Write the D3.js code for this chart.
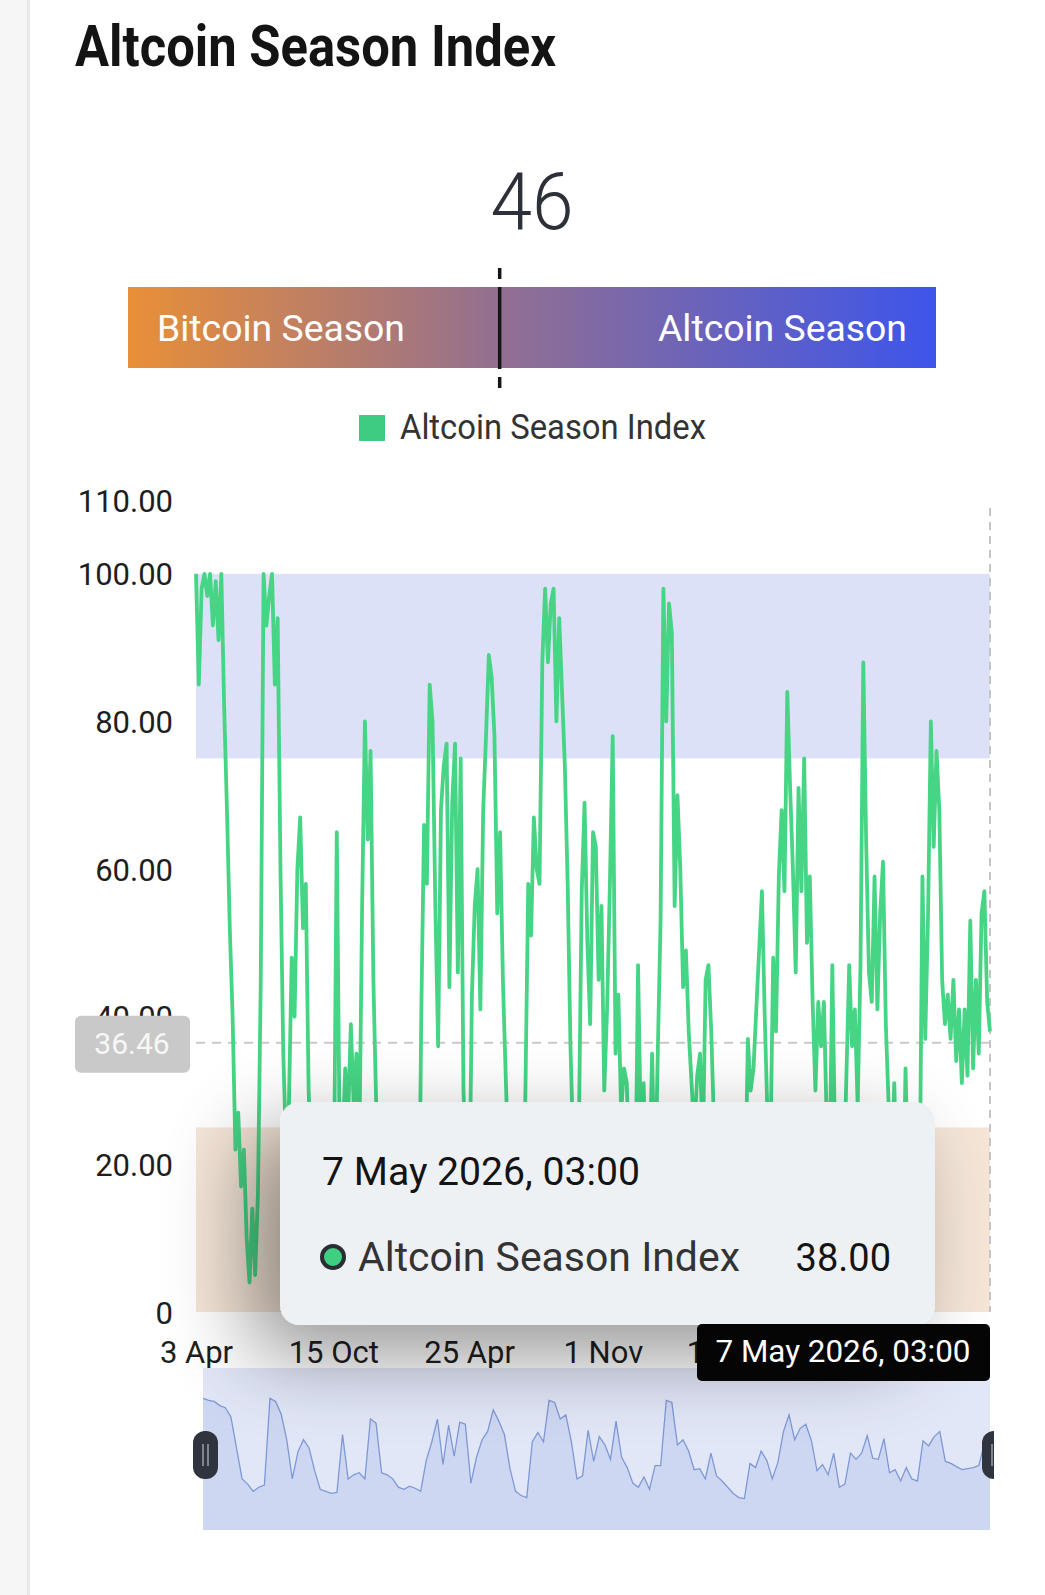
<!DOCTYPE html>
<html>
<head>
<meta charset="utf-8">
<script src="https://cdn.jsdelivr.net/npm/d3@7"></script>
<style>
  body { margin: 0; background: #fff; }
  text { font-family: Roboto, "Noto Sans", sans-serif; }
</style>
</head>
<body>
<div id="chart"></div>
<script>

// data (daily index, one value every 4 days from 3 Apr 2023)
var startDate = "2023-04-03";
var stepDays = 4;
var indexValues = [
  100, 85, 98, 100, 97, 100, 93, 99, 91, 100,
  82, 68, 52, 40, 22, 27, 17, 22, 10, 4,
  14, 5, 16, 45, 100, 93, 97, 100, 85, 94,
  60, 35, 22, 28, 48, 40, 60, 67, 52, 58,
  30, 20, 12, 6, 10, 4, 8, 3, 9, 18,
  65, 24, 22, 33, 26, 39, 28, 35, 22, 55,
  80, 64, 76, 45, 28, 20, 26, 15, 22, 10,
  14, 6, 12, 8, 15, 9, 13, 5, 10, 2,
  40, 66, 58, 85, 80, 55, 36, 68, 74, 77,
  44, 69, 77, 46, 75, 30, 18, 12, 43, 55,
  60, 41, 68, 78, 89, 86, 78, 54, 65, 45,
  32, 20, 10, 16, 6, 12, 4, 30, 58, 51,
  67, 60, 58, 88, 98, 88, 96, 98, 80, 94,
  84, 74, 58, 36, 22, 15, 25, 57, 69, 50,
  39, 65, 63, 45, 55, 30, 41, 58, 78, 35,
  43, 27, 33, 31, 18, 22, 14, 47, 24, 31,
  12, 18, 35, 15, 35, 53, 98, 80, 96, 92,
  55, 70, 60, 44, 49, 38, 31, 24, 32, 35,
  22, 45, 47, 38, 25, 28, 20, 26, 14, 18,
  8, 12, 4, 9, 3, 14, 37, 30, 33, 41,
  49, 57, 40, 26, 22, 48, 38, 59, 68, 57,
  84, 71, 60, 46, 71, 57, 75, 50, 59, 42,
  30, 42, 36, 42, 26, 18, 47, 22, 14, 28,
  17, 32, 47, 36, 41, 28, 47, 88, 64, 46,
  42, 59, 41, 54, 61, 39, 28, 18, 31, 14,
  20, 10, 33, 16, 22, 12, 20, 15, 59, 37,
  54, 80, 63, 76, 68, 45, 39, 43, 37, 45,
  34, 41, 31, 41, 32, 53, 33, 45, 35, 54,
  57, 42, 38
];

var yTicks = [0, 20, 40, 60, 80, 100, 110];
var xTickDates = ["2023-04-03", "2023-10-15", "2024-04-25", "2024-11-01", "2025-05-10"];
var xTickLabels = ["3 Apr", "15 Oct", "25 Apr", "1 Nov", "10 May"];

var currentIndex = 46;
var averageValue = 36.46;
var altcoinBand = [75, 100];
var bitcoinBand = [0, 25];
var tooltipDate = "7 May 2026, 03:00";
var tooltipValue = 38;

var lineColor = "#46d585";

var parseDay = d3.utcParse("%Y-%m-%d");
var firstDay = parseDay(startDate);
var mydata = indexValues.map(function (v, i) {
      return { date: d3.utcDay.offset(firstDay, i * stepDays), value: v };
});

var svg = d3.select("#chart")
      .append("svg")
      .attr("width", 1045)
      .attr("height", 1595);

var defs = svg.append("defs");

var grad = defs.append("linearGradient").attr("id", "seasonGrad")
      .attr("x1", "0%").attr("x2", "100%").attr("y1", "0%").attr("y2", "0%");
grad.append("stop").attr("offset", "0%").attr("stop-color", "#e98f37");
grad.append("stop").attr("offset", "45%").attr("stop-color", "#94708f");
grad.append("stop").attr("offset", "100%").attr("stop-color", "#3d55ea");

var shadow = defs.append("filter").attr("id", "tipShadow")
      .attr("x", "-60%").attr("y", "-80%").attr("width", "220%").attr("height", "260%");
shadow.append("feGaussianBlur").attr("in", "SourceAlpha").attr("stdDeviation", 42);
shadow.append("feOffset").attr("dx", -30).attr("dy", 30).attr("result", "blur");
shadow.append("feComponentTransfer").append("feFuncA").attr("type", "linear").attr("slope", 0.42);
var merge = shadow.append("feMerge");
merge.append("feMergeNode");
merge.append("feMergeNode").attr("in", "SourceGraphic");

defs.append("clipPath").attr("id", "pageClip")
      .append("rect").attr("x", 0).attr("y", 0).attr("width", 994).attr("height", 1595);

// left page strip
svg.append("rect").attr("x", 0).attr("y", 0).attr("width", 28).attr("height", 1595).attr("fill", "#f6f6f6");
svg.append("rect").attr("x", 27).attr("y", 0).attr("width", 3).attr("height", 1595).attr("fill", "#e8e8e8");

// title
svg.append("text")
      .text("Altcoin Season Index")
      .attr("x", 75).attr("y", 66)
      .attr("font-size", "57px")
      .attr("font-weight", 700)
      .attr("textLength", 481)
      .attr("lengthAdjust", "spacingAndGlyphs")
      .attr("fill", "#141414");

// current value
svg.append("text")
      .text(currentIndex)
      .attr("x", 532).attr("y", 229)
      .attr("text-anchor", "middle")
      .attr("font-size", "80px")
      .attr("font-weight", 300)
      .attr("textLength", 83)
      .attr("lengthAdjust", "spacingAndGlyphs")
      .attr("fill", "#2c3038");

// gauge bar
var gauge = d3.scaleLinear().domain([0, 100]).range([128, 936]);
svg.append("rect")
      .attr("x", gauge(0)).attr("y", 287)
      .attr("width", gauge(100) - gauge(0)).attr("height", 81)
      .attr("fill", "url(#seasonGrad)");
svg.append("text").text("Bitcoin Season")
      .attr("x", 157).attr("y", 341)
      .attr("font-size", "37px").attr("fill", "#fff")
      .attr("textLength", 248).attr("lengthAdjust", "spacingAndGlyphs");
svg.append("text").text("Altcoin Season")
      .attr("x", 658).attr("y", 341)
      .attr("font-size", "37px").attr("fill", "#fff")
      .attr("textLength", 249).attr("lengthAdjust", "spacingAndGlyphs");
[[268, 279], [287, 369], [377, 388]].forEach(function (s) {
      svg.append("line")
            .attr("x1", gauge(currentIndex)).attr("x2", gauge(currentIndex))
            .attr("y1", s[0]).attr("y2", s[1])
            .attr("stroke", "#151515").attr("stroke-width", 3.5);
});

// legend
svg.append("rect").attr("x", 359).attr("y", 415).attr("width", 26).attr("height", 26)
      .attr("fill", "#3dcc82");
svg.append("text").text("Altcoin Season Index")
      .attr("x", 400).attr("y", 439)
      .attr("font-size", "35px").attr("fill", "#333")
      .attr("textLength", 306).attr("lengthAdjust", "spacingAndGlyphs");

// scales
var x = d3.scaleUtc()
      .domain([mydata[0].date, mydata[mydata.length - 1].date])
      .range([196, 990]);
var y = d3.scaleLinear()
      .domain([0, 110])
      .range([1312, 500]);

// season bands
svg.append("rect")
      .attr("x", 196).attr("width", 990 - 196)
      .attr("y", y(altcoinBand[1])).attr("height", y(altcoinBand[0]) - y(altcoinBand[1]))
      .attr("fill", "#dce1f8");
svg.append("rect")
      .attr("x", 196).attr("width", 990 - 196)
      .attr("y", y(bitcoinBand[1])).attr("height", y(bitcoinBand[0]) - y(bitcoinBand[1]))
      .attr("fill", "#f4e5d7");

// y axis
var yAxis = svg.append("g")
      .attr("transform", "translate(173,0)")
      .call(d3.axisLeft(y).tickValues(yTicks).tickSize(0).tickPadding(0)
            .tickFormat(function (d) { return d === 0 ? "0" : d3.format(".2f")(d); }));
yAxis.select(".domain").remove();
yAxis.selectAll("text")
      .attr("font-size", "31px")
      .attr("font-family", "Roboto, sans-serif")
      .attr("fill", "#1e1e1e")
      .attr("dy", "0.36em");

// average line
svg.append("line")
      .attr("x1", 196).attr("x2", 990)
      .attr("y1", y(averageValue)).attr("y2", y(averageValue))
      .attr("stroke", "#c9c9c9").attr("stroke-width", 2)
      .attr("stroke-dasharray", "9,7");

// crosshair
svg.append("line")
      .attr("x1", 990).attr("x2", 990)
      .attr("y1", 508).attr("y2", 1312)
      .attr("stroke", "#c4c4c4").attr("stroke-width", 2)
      .attr("stroke-dasharray", "8,6");

// index line
var line = d3.line()
      .x(function (d) { return x(d.date); })
      .y(function (d) { return y(d.value); });
svg.append("path")
      .datum(mydata)
      .attr("d", line)
      .attr("fill", "none")
      .attr("stroke", lineColor)
      .attr("stroke-width", 3.8)
      .attr("stroke-linejoin", "round");

// average label
svg.append("rect")
      .attr("x", 75).attr("y", y(averageValue) - 27)
      .attr("width", 115).attr("height", 57).attr("rx", 6)
      .attr("fill", "#c9c9c9");
svg.append("text").text(averageValue.toFixed(2))
      .attr("x", 132).attr("y", y(averageValue) + 11)
      .attr("text-anchor", "middle")
      .attr("font-size", "30px").attr("fill", "#f7f7f7");

// x axis
var xAxis = svg.append("g")
      .attr("transform", "translate(0,1330)")
      .call(d3.axisBottom(x).tickSize(0).tickPadding(0)
            .tickValues(xTickDates.map(parseDay))
            .tickFormat(function (d, i) { return xTickLabels[i]; }));
xAxis.select(".domain").remove();
xAxis.selectAll("text")
      .attr("font-size", "31px")
      .attr("font-family", "Roboto, sans-serif")
      .attr("fill", "#1e1e1e")
      .attr("dy", "1.05em");

// mini overview (data zoom)
var ext = d3.extent(indexValues);
var pad = (ext[1] - ext[0]) * 0.3;
var xm = d3.scaleUtc()
      .domain(x.domain())
      .range([203, 990]);
var ym = d3.scaleLinear()
      .domain([ext[0] - pad, ext[1] + pad])
      .range([1530, 1368]);
var miniData = mydata.filter(function (d, i) { return i % 2 === 0 || i === mydata.length - 1; });

svg.append("rect")
      .attr("x", 203).attr("y", 1368).attr("width", 787).attr("height", 162)
      .attr("fill", "#e2e7f8");
svg.append("path")
      .datum(miniData)
      .attr("d", d3.area()
            .x(function (d) { return xm(d.date); })
            .y0(1530)
            .y1(function (d) { return ym(d.value); }))
      .attr("fill", "#c6d0ef")
      .attr("opacity", 0.7);
svg.append("path")
      .datum(miniData)
      .attr("d", d3.line()
            .x(function (d) { return xm(d.date); })
            .y(function (d) { return ym(d.value); }))
      .attr("fill", "none")
      .attr("stroke", "#7e98d6")
      .attr("stroke-width", 1.3);

var handles = svg.append("g").attr("clip-path", "url(#pageClip)");
[193, 982].forEach(function (hx) {
      handles.append("rect")
            .attr("x", hx).attr("y", 1431).attr("width", 25).attr("height", 48).attr("rx", 12)
            .attr("fill", "#2f343e");
      [hx + 10, hx + 15].forEach(function (lx) {
            handles.append("line")
                  .attr("x1", lx).attr("x2", lx).attr("y1", 1444).attr("y2", 1466)
                  .attr("stroke", "#9aa0aa").attr("stroke-width", 1.5);
      });
});

// tooltip
svg.append("rect")
      .attr("x", 280).attr("y", 1102).attr("width", 655).attr("height", 223).attr("rx", 20)
      .attr("fill", "#eef1f4")
      .attr("filter", "url(#tipShadow)");
svg.append("text").text(tooltipDate)
      .attr("x", 322).attr("y", 1185)
      .attr("font-size", "38px").attr("fill", "#141414")
      .attr("textLength", 318).attr("lengthAdjust", "spacingAndGlyphs");
svg.append("circle")
      .attr("cx", 333).attr("cy", 1257).attr("r", 11)
      .attr("fill", "#3fcf80").attr("stroke", "#2a2d33").attr("stroke-width", 4);
svg.append("text").text("Altcoin Season Index")
      .attr("x", 358).attr("y", 1271)
      .attr("font-size", "40px").attr("fill", "#333")
      .attr("textLength", 382).attr("lengthAdjust", "spacingAndGlyphs");
svg.append("text").text(tooltipValue.toFixed(2))
      .attr("x", 891).attr("y", 1271)
      .attr("text-anchor", "end")
      .attr("font-size", "38px").attr("fill", "#141414");

// crosshair date label
svg.append("rect")
      .attr("x", 697).attr("y", 1324).attr("width", 293).attr("height", 57).attr("rx", 5)
      .attr("fill", "#050505");
svg.append("text").text(tooltipDate)
      .attr("x", 843).attr("y", 1362)
      .attr("text-anchor", "middle")
      .attr("font-size", "31px").attr("fill", "#fff")
      .attr("textLength", 255).attr("lengthAdjust", "spacingAndGlyphs");

</script>
</body>
</html>
